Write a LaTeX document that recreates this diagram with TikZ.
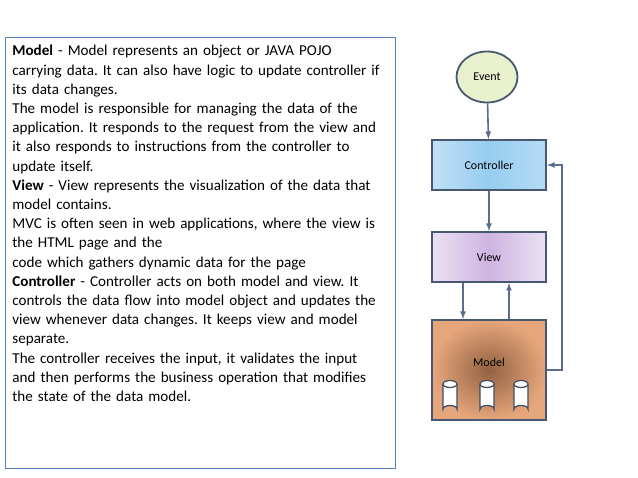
\documentclass[tikz,border=0pt]{standalone}
\usepackage{fontspec}
\setmainfont{Carlito}
\usetikzlibrary{shapes.geometric}
\definecolor{boxblue}{RGB}{79,129,189}
\definecolor{arrowgray}{RGB}{90,110,140}
\definecolor{eventfill}{RGB}{232,240,205}
\definecolor{ctrlfill}{RGB}{150,205,240}
\definecolor{viewfill}{RGB}{205,180,225}
\definecolor{modelfill}{RGB}{225,150,100}
\frenchspacing
\begin{document}
\begin{tikzpicture}[x=1pt, y=-1pt, thick,
    block/.style={draw=arrowgray!80!black, line width=1.8pt, minimum width=114pt, inner sep=0pt, font=\fontsize{12}{14}\selectfont},
    link/.style={-latex, draw=arrowgray, line width=1.6pt},
    can/.style={draw=arrowgray!70!black, fill=white, line width=1.2pt}]
    \useasboundingbox (0,0) rectangle (638,478);
    % text panel
    \node[draw=boxblue, line width=1pt, minimum width=390pt, minimum height=431pt, anchor=north west] at (5,37) (panel) {};
    \node[anchor=north west, align=left, text width=385pt, inner sep=0pt, font=\fontsize{15.1}{19.2}\selectfont] at (12,45) (desc) {%
        \textbf{Model} - Model represents an object or JAVA POJO\\carrying data. It can also have logic to update controller if\\its data changes.\\The model is responsible for managing the data of the\\application. It responds to the request from the view and\\it also responds to instructions from the controller to\\update itself.\\\textbf{View} - View represents the visualization of the data that\\model contains.\\MVC is often seen in web applications, where the view is\\the HTML page and the\\code which gathers dynamic data for the page\\\textbf{Controller} - Controller acts on both model and view. It\\controls the data flow into model object and updates the\\view whenever data changes. It keeps view and model\\separate.\\The controller receives the input, it validates the input\\and then performs the business operation that modifies\\the state of the data model.};
    % MVC diagram
    \node[draw=arrowgray!80!black, line width=1.8pt, ellipse, fill=eventfill, minimum width=61pt, minimum height=51pt, inner sep=0pt, font=\fontsize{12}{14}\selectfont] at (487,77) (event) {Event};
    \node[block, minimum height=50pt, left color=ctrlfill!60!white, right color=ctrlfill!70!white, middle color=ctrlfill] at (489,165) (ctrl) {Controller};
    \node[block, minimum height=50pt, left color=viewfill!40!white, right color=viewfill!40!white, middle color=viewfill] at (489,257) (view) {View};
    \node[block, minimum height=100pt, inner color=modelfill!65!black, outer color=modelfill!85!white] at (489,370) (model) {};
    \node[font=\fontsize{12}{14}\selectfont] at (489,362) (mlabel) {Model};
    \foreach \cx/\nm in {450/c1, 487/c2, 521/c3} {
        \draw[can] (\cx-7,384) -- (\cx-7,409) arc[start angle=180, end angle=360, x radius=7, y radius=3.5] -- (\cx+7,384);
        \draw[can] (\cx,384) ellipse[x radius=7, y radius=3.5];
    }
    \coordinate (loopA) at (562,165);
    \coordinate (loopB) at (562,370);
    \draw[link] (event) -- (ctrl);
    \draw[link] (ctrl) -- (view);
    \draw[link] (view.south -| 463,0) -- (model.north -| 463,0);
    \draw[link] (model.north -| 509,0) -- (view.south -| 509,0);
    \draw[link] (model.east) -- (loopB) -- (loopA) -- (ctrl.east);
\end{tikzpicture}
\end{document}
